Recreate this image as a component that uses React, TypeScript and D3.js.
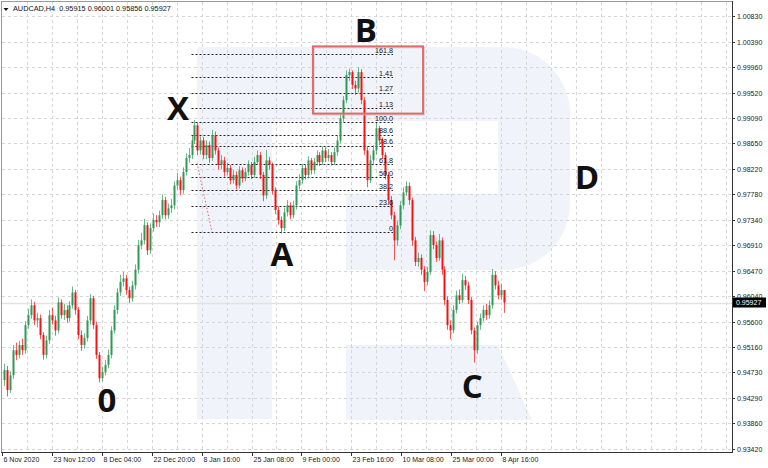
import React from 'react';
import * as d3 from 'd3';

const W = 768;
const H = 468;

const headerText = 'AUDCAD,H4  0.95915 0.96001 0.95856 0.95927';
const priceTicks = [1.0083, 1.0039, 0.9996, 0.9952, 0.9909, 0.9865, 0.9822, 0.9778, 0.9734, 0.9691, 0.9647, 0.9604, 0.956, 0.9516, 0.9473, 0.9429, 0.9386, 0.9342];
const dateLabels = ['6 Nov 2020', '23 Nov 12:00', '8 Dec 04:00', '22 Dec 20:00', '8 Jan 16:00', '25 Jan 08:00', '9 Feb 00:00', '23 Feb 16:00', '10 Mar 08:00', '25 Mar 00:00', '8 Apr 16:00'];

const firstOpen = 0.946;
const closes = [
  0.9477, 0.9443, 0.9468, 0.9511, 0.9503, 0.952, 0.9511, 0.9554, 0.9571, 0.9588,
  0.9562, 0.9566, 0.9537, 0.9503, 0.9528, 0.9571, 0.9562, 0.9545, 0.9593, 0.9571,
  0.958, 0.9566, 0.9588, 0.961, 0.958, 0.9537, 0.952, 0.9532, 0.9562, 0.96,
  0.9554, 0.9503, 0.9463, 0.9474, 0.9486, 0.9503, 0.9545, 0.958, 0.961, 0.9628,
  0.9634, 0.9614, 0.96, 0.9622, 0.9649, 0.9691, 0.9699, 0.9725, 0.9682, 0.972,
  0.9734, 0.973, 0.9742, 0.9768, 0.9742, 0.9754, 0.9759, 0.9793, 0.9802, 0.9785,
  0.9816, 0.984, 0.9845, 0.987, 0.9896, 0.9853, 0.987, 0.9845, 0.9862, 0.984,
  0.9879, 0.9853, 0.9828, 0.9836, 0.9816, 0.9823, 0.9802, 0.9811, 0.9793, 0.9819,
  0.9805, 0.9816, 0.9828, 0.9811, 0.9833, 0.9845, 0.9811, 0.9776, 0.9836, 0.9828,
  0.9785, 0.9751, 0.9734, 0.972, 0.9747, 0.9759, 0.9742, 0.9759, 0.9793, 0.9802,
  0.9823, 0.9811, 0.9836, 0.9819, 0.9833, 0.9845, 0.9833, 0.9853, 0.984, 0.9845,
  0.9833, 0.985, 0.987, 0.9908, 0.9939, 0.9982, 0.9987, 0.9965, 0.9959, 0.9987,
  0.9939, 0.9853, 0.9802, 0.9836, 0.9853, 0.9891, 0.987, 0.9845, 0.9811, 0.9768,
  0.9742, 0.9699, 0.9725, 0.9759, 0.9781, 0.9792, 0.9768, 0.9699, 0.9662, 0.9669,
  0.9649, 0.9628, 0.9645, 0.9708, 0.9691, 0.9669, 0.9699, 0.9649, 0.9597, 0.9554,
  0.9545, 0.958, 0.9605, 0.9597, 0.9631, 0.9622, 0.9597, 0.9545, 0.9511, 0.9554,
  0.9566, 0.958, 0.9571, 0.9588, 0.964, 0.9622, 0.9605, 0.9614, 0.95927,
];
const highs = [
  0.9488, 0.9484, 0.9475, 0.952, 0.9524, 0.9527, 0.9531, 0.9561, 0.9582, 0.9598,
  0.9594, 0.9575, 0.9572, 0.9542, 0.9536, 0.958, 0.9584, 0.957, 0.9601, 0.9598,
  0.959, 0.9588, 0.9595, 0.962, 0.9614, 0.9585, 0.9545, 0.954, 0.957, 0.9607,
  0.9604, 0.956, 0.9508, 0.9483, 0.9494, 0.9512, 0.9552, 0.9588, 0.9617, 0.964,
  0.9645, 0.964, 0.962, 0.963, 0.9658, 0.97, 0.9712, 0.9736, 0.973, 0.9728,
  0.9745, 0.9742, 0.975, 0.9778, 0.9774, 0.9762, 0.977, 0.98, 0.9814, 0.9808,
  0.9824, 0.9848, 0.9857, 0.9878, 0.9905, 0.99, 0.9877, 0.9876, 0.987, 0.9868,
  0.9888, 0.9885, 0.9858, 0.9845, 0.9842, 0.9832, 0.9828, 0.982, 0.9817, 0.9826,
  0.9824, 0.9823, 0.9836, 0.9833, 0.9842, 0.9853, 0.985, 0.9816, 0.9854, 0.9842,
  0.9832, 0.979, 0.9757, 0.974, 0.9755, 0.9768, 0.9764, 0.9767, 0.98, 0.9812,
  0.983, 0.9828, 0.9843, 0.984, 0.984, 0.9853, 0.985, 0.986, 0.9858, 0.9855,
  0.985, 0.9858, 0.9878, 0.9915, 0.9946, 0.999, 0.9993, 0.999, 0.9972, 0.9995,
  0.9992, 0.9944, 0.986, 0.9845, 0.9862, 0.99, 0.9895, 0.9875, 0.985, 0.9816,
  0.9775, 0.9748, 0.9733, 0.9766, 0.979, 0.98, 0.9798, 0.9772, 0.9705, 0.9678,
  0.9675, 0.9655, 0.9654, 0.9716, 0.9715, 0.9697, 0.971, 0.9704, 0.9655, 0.9603,
  0.9562, 0.9588, 0.9613, 0.9615, 0.9642, 0.9638, 0.9628, 0.9602, 0.955, 0.956,
  0.9574, 0.9588, 0.959, 0.9596, 0.965, 0.9646, 0.963, 0.9625, 0.96,
];
const lows = [
  0.945, 0.9432, 0.9438, 0.9462, 0.9494, 0.9497, 0.9503, 0.9505, 0.9548, 0.9565,
  0.9554, 0.955, 0.953, 0.9495, 0.9497, 0.9522, 0.9555, 0.9536, 0.954, 0.9565,
  0.9563, 0.9558, 0.956, 0.9582, 0.9572, 0.953, 0.951, 0.9514, 0.9526, 0.9555,
  0.9547, 0.9496, 0.9456, 0.9458, 0.9468, 0.948, 0.9497, 0.954, 0.9573, 0.9604,
  0.962, 0.9606, 0.9592, 0.9594, 0.9615, 0.9642, 0.9684, 0.9692, 0.9674, 0.9676,
  0.9714, 0.9722, 0.9722, 0.9736, 0.9735, 0.9736, 0.9746, 0.9752, 0.9786, 0.9776,
  0.9779, 0.981, 0.9832, 0.9838, 0.9864, 0.9845, 0.9846, 0.9838, 0.9838, 0.9832,
  0.9835, 0.9846, 0.982, 0.9821, 0.9808, 0.981, 0.9795, 0.9796, 0.9786, 0.9788,
  0.9798, 0.98, 0.981, 0.9804, 0.9806, 0.9828, 0.9804, 0.9766, 0.977, 0.982,
  0.9778, 0.9744, 0.9726, 0.9711, 0.9715, 0.974, 0.9735, 0.9737, 0.9752, 0.9786,
  0.9796, 0.9803, 0.9805, 0.9812, 0.9813, 0.9827, 0.9826, 0.9828, 0.9833, 0.9834,
  0.9827, 0.9828, 0.9844, 0.9865, 0.9902, 0.9934, 0.9972, 0.9958, 0.9948, 0.9952,
  0.9932, 0.9845, 0.979, 0.9797, 0.9828, 0.9846, 0.9862, 0.9838, 0.9803, 0.976,
  0.9735, 0.9665, 0.969, 0.9718, 0.9752, 0.9775, 0.976, 0.969, 0.9655, 0.9654,
  0.964, 0.9612, 0.9622, 0.964, 0.9684, 0.9662, 0.9664, 0.964, 0.9588, 0.9546,
  0.953, 0.954, 0.9574, 0.959, 0.9592, 0.9614, 0.959, 0.9538, 0.949, 0.9505,
  0.9546, 0.956, 0.9563, 0.9565, 0.9582, 0.9615, 0.9598, 0.9597, 0.9575,
];
const lastPrice = 0.95927;

const fibHigh = 0.9901; // X
const fibLow = 0.9713; // A
const fibRatios = [1.618, 1.41, 1.27, 1.13, 1.0, 0.886, 0.786, 0.618, 0.5, 0.382, 0.236, 0];
const fibLabels = ['161.8', '1.41', '1.27', '1.13', '100.0', '88.6', '78.6', '61.8', '50.0', '38.2', '23.6', '0'];
const fibSpan = [63, 130.7]; // candle index range of the fib grid

const waveLabels = ['0', 'X', 'A', 'B', 'C', 'D'];
const waveIndex = [34.6, 58.5, 93.4, 121.6, 157.3, 195.9];
const wavePrice = [0.9426, 0.9925, 0.9675, 1.0059, 0.945, 0.9807];

const boxIndex = [103.8, 140.8];
const boxPrice = [1.0031, 0.9916];
const trendIndex = [64.9, 69.9];
const trendPrice = [0.9831, 0.9713];

export default function App() {
  const plotLeft = 2;
  const plotRight = 732;
  const plotTop = 2;
  const plotBottom = 452;

  const yS = d3.scaleLinear().domain([0.9342, 1.0083]).range([449, 16]);
  const xT = d3.scaleLinear().domain([0, 10]).range([2, 501]);
  const xC = d3.scaleLinear().domain([0, closes.length - 1]).range([4, 504]);
  const fmt = d3.format('.5f');

  const candles = closes.map((c, i) => ({
    o: i === 0 ? firstOpen : closes[i - 1],
    h: highs[i],
    l: lows[i],
    c,
    i,
  }));

  const vGrid: number[] = [];
  for (let k = 1; xT(k / 2) < plotRight - 2; k++) vGrid.push(xT(k / 2));

  const up = '#2f9a55';
  const dn = '#f21414';

  const sans = '"Liberation Sans", Arial, sans-serif';
  const bold = '"Open Sans", "Noto Sans", sans-serif';

  const fibPrice = (r: number) => fibLow + r * (fibHigh - fibLow);

  return (
    <svg width={W} height={H} style={{ position: 'absolute', left: 0, top: 0, background: '#fff' }}>
      <rect x={0} y={0} width={W} height={H} fill="#fff" />
      {/* watermark */}
      <g fill="#f0f3f9">
        <path d="M197,47 H503 A67,67 0 0 1 570,114 V203 A67,67 0 0 1 503,270 H346 V194 H498 V121 H272 V419 H197 Z" />
        <path d="M346,345 H498 L532,420 H346 Z" />
      </g>
      {/* grid */}
      <g stroke="#d6d6d6" strokeWidth={1} strokeDasharray="3,3">
        {vGrid.map((x, k) => (
          <line key={'v' + k} x1={Math.round(x) + 0.5} x2={Math.round(x) + 0.5} y1={plotTop} y2={plotBottom} />
        ))}
        {priceTicks.map((p, k) => (
          <line key={'h' + k} x1={plotLeft} x2={plotRight} y1={Math.round(yS(p)) + 0.5} y2={Math.round(yS(p)) + 0.5} />
        ))}
      </g>
      {/* current price line */}
      <line x1={plotLeft} x2={plotRight} y1={Math.round(yS(lastPrice)) + 0.5} y2={Math.round(yS(lastPrice)) + 0.5} stroke="#e2e2e2" strokeWidth={1.5} />

      {/* fib levels */}
      <g>
        {fibRatios.map((r, k) => {
          const y = Math.round(yS(fibPrice(r))) + 0.5;
          return (
            <line key={'f' + k} x1={xC(fibSpan[0])} x2={xC(fibSpan[1])} y1={y} y2={y} stroke="#222" strokeWidth={1} strokeDasharray="2,2" />
          );
        })}
      </g>

      {/* red dotted trend */}
      <line x1={xC(trendIndex[0])} y1={yS(trendPrice[0])} x2={xC(trendIndex[1])} y2={yS(trendPrice[1])} stroke="#e8636b" strokeWidth={1} strokeDasharray="1.5,2" />

      {/* candles */}
      <g>
        {candles.map((d) => {
          const x = Math.round(xC(d.i));
          const col = d.c >= d.o ? up : dn;
          const yTop = yS(Math.max(d.o, d.c));
          const yBot = yS(Math.min(d.o, d.c));
          return (
            <g key={'c' + d.i}>
              <line x1={x + 0.5} x2={x + 0.5} y1={yS(d.h)} y2={yS(d.l)} stroke={col} strokeOpacity={0.7} strokeWidth={1} />
              <rect x={x - 0.5} y={yTop} width={2} height={Math.max(1, yBot - yTop)} fill={col} />
            </g>
          );
        })}
      </g>

      {/* fib labels */}
      <g fontFamily={sans} fontSize={7.2} fill="#111" textAnchor="end">
        {fibRatios.map((r, k) => (
          <text key={'fl' + k} x={xC(fibSpan[1])} y={yS(fibPrice(r)) - 1.5}>{fibLabels[k]}</text>
        ))}
      </g>

      {/* red box */}
      <rect x={xC(boxIndex[0]) + 1} y={yS(boxPrice[0]) + 1} width={xC(boxIndex[1]) - xC(boxIndex[0])} height={yS(boxPrice[1]) - yS(boxPrice[0])} fill="none" stroke="#c8c8c8" strokeOpacity={0.6} strokeWidth={2} />
      <rect x={xC(boxIndex[0])} y={yS(boxPrice[0])} width={xC(boxIndex[1]) - xC(boxIndex[0])} height={yS(boxPrice[1]) - yS(boxPrice[0])} fill="none" stroke="#e26a6a" strokeWidth={2} />

      {/* wave labels */}
      <g fontFamily={bold} fontWeight={700} fontSize={33} fill="#111" textAnchor="middle">
        {waveLabels.map((t, k) => (
          <text key={'w' + k} x={xC(waveIndex[k])} y={yS(wavePrice[k])} dy="0.36em">{t}</text>
        ))}
      </g>

      {/* frame */}
      <line x1={1.5} x2={1.5} y1={1} y2={plotBottom} stroke="#9a9a9a" strokeWidth={1} />
      <line x1={1} x2={plotRight} y1={1.5} y2={1.5} stroke="#9a9a9a" strokeWidth={1} />
      <line x1={plotRight + 0.5} x2={plotRight + 0.5} y1={1} y2={plotBottom + 1} stroke="#333" strokeWidth={1} />
      <line x1={1} x2={plotRight + 1} y1={plotBottom + 0.5} y2={plotBottom + 0.5} stroke="#333" strokeWidth={1} />

      {/* price axis */}
      <g fontFamily={sans} fontSize={7} fill="#222">
        {priceTicks.map((p, k) => {
          const y = Math.round(yS(p)) + 0.5;
          return (
            <g key={'pt' + k}>
              <line x1={plotRight} x2={plotRight + 3} y1={y} y2={y} stroke="#333" />
              <text x={plotRight + 5} y={y + 2.5}>{fmt(p)}</text>
            </g>
          );
        })}
      </g>
      <rect x={plotRight + 1} y={yS(lastPrice) - 5} width={33} height={10} fill="#000" />
      <text x={plotRight + 4} y={yS(lastPrice) + 2.6} fontFamily={sans} fontSize={7} fill="#fff">{fmt(lastPrice)}</text>

      {/* date axis */}
      <g fontFamily={sans} fontSize={7} fill="#222">
        {dateLabels.map((t, k) => {
          const x = Math.round(xT(k)) + 0.5;
          return (
            <g key={'dt' + k}>
              <line x1={x} x2={x} y1={plotBottom} y2={plotBottom + 4} stroke="#333" />
              <text x={x + 1} y={plotBottom + 9.5}>{t}</text>
            </g>
          );
        })}
      </g>

      {/* header */}
      <path d="M3.5,8 L8.5,8 L6,11 Z" fill="#111" />
      <text x={13} y={10.5} fontFamily={sans} fontSize={7.3} fill="#111" style={{ whiteSpace: 'pre' }}>{headerText}</text>
    </svg>
  );
}
